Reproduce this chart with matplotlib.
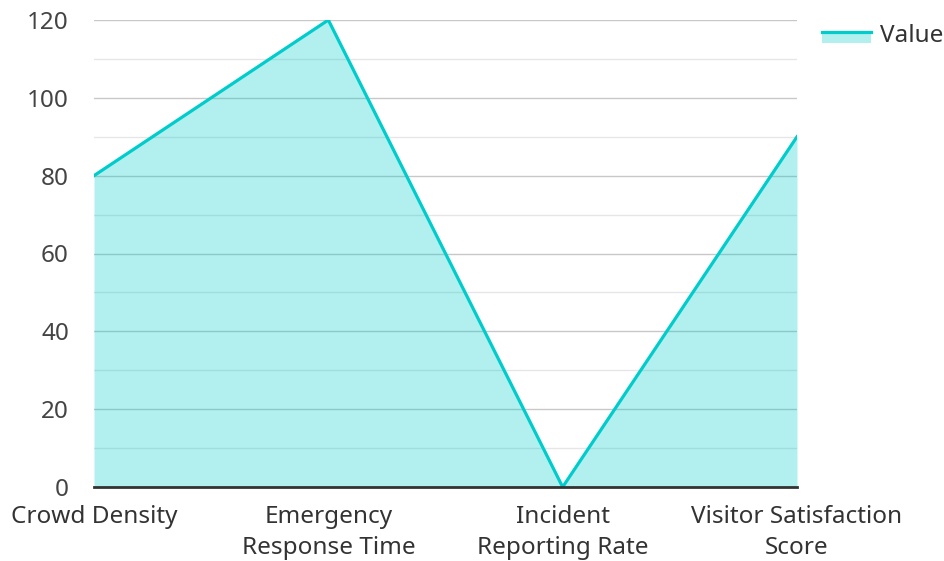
import matplotlib
matplotlib.use("Agg")
import matplotlib.pyplot as plt
from matplotlib.legend_handler import HandlerBase
from matplotlib.patches import Rectangle
from matplotlib.lines import Line2D
from matplotlib.ticker import MultipleLocator

categories = ["Crowd Density", "Emergency\nResponse Time", "Incident\nReporting Rate", "Visitor Satisfaction\nScore"]
values = [80, 120, 0, 90]
series_name = "Value"

line_color = "#00cccc"
fill_color = "#00cccc"

plt.rcParams['font.family'] = ['Noto Sans', 'DejaVu Sans']

fig = plt.figure(figsize=(9.45, 5.61), dpi=100)
ax = fig.add_axes([94/945, 1-487/561, (797-94)/945, (487-20)/561])

x = list(range(len(categories)))
ax.fill_between(x, values, 0, color=fill_color, alpha=0.3, linewidth=0, zorder=2)
ax.plot(x, values, color=line_color, linewidth=2.3, zorder=3, solid_joinstyle='miter')

ax.set_xlim(0, len(categories) - 1)
ax.set_ylim(0, 120)
ax.yaxis.set_major_locator(MultipleLocator(20))
ax.yaxis.set_minor_locator(MultipleLocator(10))
ax.grid(which='major', axis='y', color='#c8c8c8', linewidth=1.0, zorder=1)
ax.grid(which='minor', axis='y', color='#e6e6e6', linewidth=1.0, zorder=1)
ax.set_axisbelow(True)

for s in ['top', 'right', 'left']:
    ax.spines[s].set_visible(False)
ax.spines['bottom'].set_color('#333333')
ax.spines['bottom'].set_linewidth(2)
ax.spines['bottom'].set_zorder(4)

ax.set_xticks(x)
ax.set_xticklabels(categories, fontsize=17.5, color='#333333', linespacing=1.38)
ax.tick_params(axis='x', length=0, pad=13)
ax.tick_params(axis='y', which='both', length=0, pad=18, labelsize=17.5, labelcolor='#444444')


class AreaHandler(HandlerBase):
    # line on top, translucent fill below it
    def create_artists(self, legend, orig_handle, xdescent, ydescent, width, height, fontsize, trans):
        top = -ydescent + height * 0.55
        rect = Rectangle((-xdescent, top - height * 0.5), width, height * 0.5,
                         facecolor=fill_color, alpha=0.3, linewidth=0, transform=trans)
        ln = Line2D([-xdescent, -xdescent + width], [top, top],
                    color=line_color, linewidth=2.3, transform=trans)
        return [rect, ln]


handle = Rectangle((0, 0), 1, 1)
fig.legend([handle], [series_name], handler_map={Rectangle: AreaHandler()},
           loc='upper left', bbox_to_anchor=(803/945, 1-3/561), frameon=False,
           fontsize=17.5, handlelength=2.0, handleheight=1.0, handletextpad=0.37,
           labelcolor='#333333', borderpad=0.3)

fig.savefig("out.png", dpi=100)
